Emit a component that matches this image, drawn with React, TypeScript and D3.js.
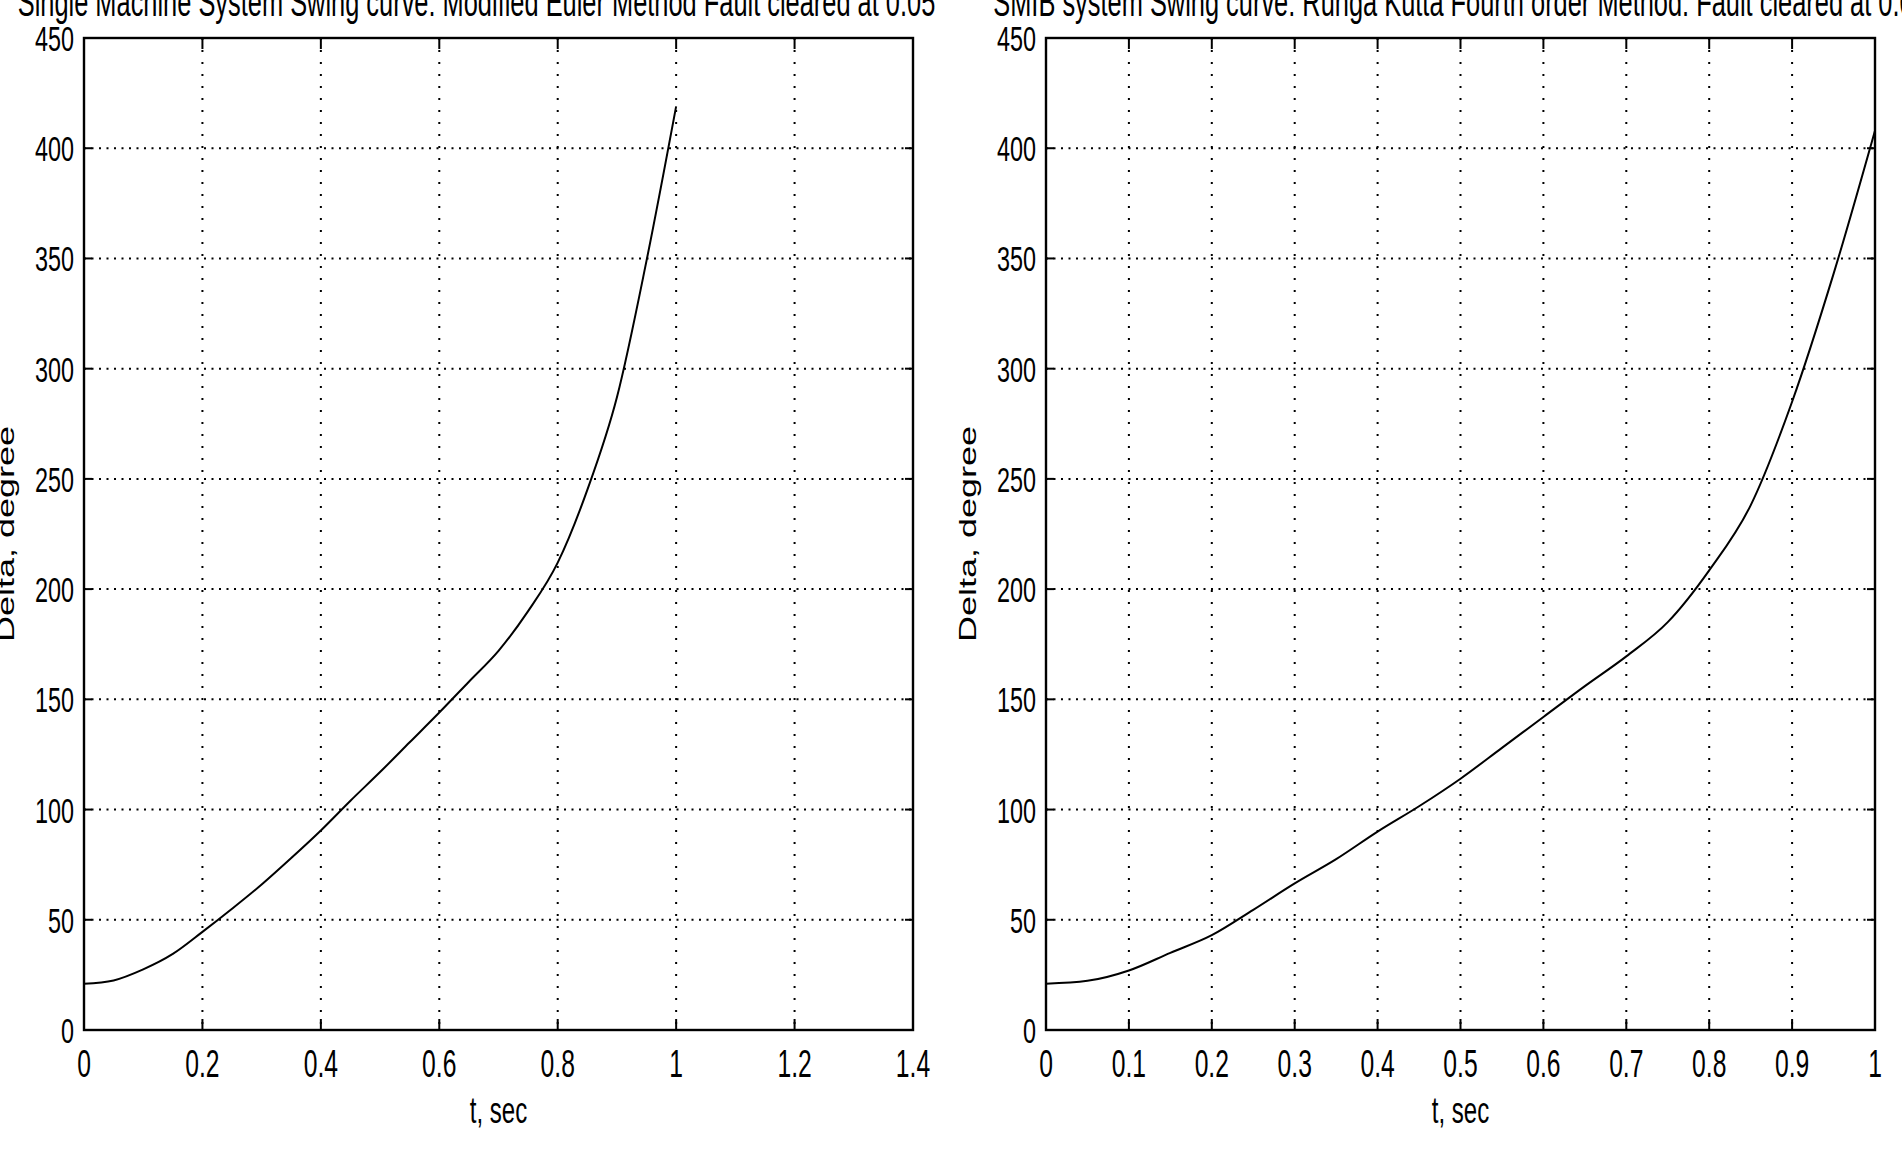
import React from "react";
import * as d3 from "d3";

// ---- data ----
const tEuler = [0, 0.05, 0.1, 0.15, 0.2, 0.25, 0.3, 0.35, 0.4, 0.45, 0.5, 0.55, 0.6, 0.65, 0.7, 0.75, 0.8, 0.85, 0.9, 0.95, 1.0];
const deltaEuler = [21, 22.5, 27.5, 34.5, 44.5, 55, 66, 78, 90.5, 104, 117, 130.5, 144, 158, 172, 190, 212, 245, 287, 349, 419];

const tRK = [0, 0.05, 0.1, 0.15, 0.2, 0.25, 0.3, 0.35, 0.4, 0.45, 0.5, 0.55, 0.6, 0.65, 0.7, 0.75, 0.8, 0.85, 0.9, 0.95, 1.0];
const deltaRK = [21, 22.3, 27, 35, 43, 54.5, 66.5, 77.5, 90, 101.5, 114, 128, 142, 156, 169.5, 185, 208.5, 238, 285, 343, 408];

const xTicksLeft = [0, 0.2, 0.4, 0.6, 0.8, 1, 1.2, 1.4];
const xTicksRight = [0, 0.1, 0.2, 0.3, 0.4, 0.5, 0.6, 0.7, 0.8, 0.9, 1];
const yTicks = [0, 50, 100, 150, 200, 250, 300, 350, 400, 450];

const titleLeft = "Single Machine System Swing curve: Modified Euler Method  Fault cleared at 0.05";
const titleRight = "SMIB system Swing curve: Runga Kutta Fourth order Method: Fault cleared at 0.05";
const xLabel = "t, sec";
const yLabel = "Delta, degree";

// ---- layout ----
const W = 1902;
const H = 1155;
const SX = 0.65; // horizontal squeeze of the text
const FONT = "'Liberation Sans', Arial, Helvetica, sans-serif";
const FS = 36;

function Txt({ x, y, anchor = "middle", rot = false, size = FS, sx = SX, children }: any) {
  return (
    <text
      transform={`translate(${x},${y}) scale(${sx},1)${rot ? " rotate(-90)" : ""}`}
      textAnchor={anchor}
      fontFamily={FONT}
      fontSize={size}
      fill="#000"
    >
      {children}
    </text>
  );
}

function Panel({ x0, x1, y0, y1, xMax, xTicks, t, v, title, titleShift }: any) {
  const x = d3.scaleLinear().domain([0, xMax]).range([x0, x1]);
  const y = d3.scaleLinear().domain([0, 450]).range([y1, y0]);
  const line = d3
    .line<number>()
    .x((_, i) => x(t[i]))
    .y((d) => y(d))
    .curve(d3.curveMonotoneX);
  const fmt = (d: number) => String(+d.toFixed(1));
  const cx = (x0 + x1) / 2;
  const cy = (y0 + y1) / 2;
  const tickX = 11;
  const tickY = 8;
  return (
    <g>
      {/* grid */}
      {xTicks.slice(1, -1).map((d: number) => (
        <line key={"gx" + d} x1={x(d)} x2={x(d)} y1={y0} y2={y1} stroke="#000" strokeWidth={2} strokeDasharray="2,10" />
      ))}
      {yTicks.slice(1, -1).map((d) => (
        <line key={"gy" + d} x1={x0} x2={x1} y1={y(d)} y2={y(d)} stroke="#000" strokeWidth={2} strokeDasharray="2,5.5" />
      ))}
      {/* curve */}
      <path d={line(v) || ""} fill="none" stroke="#000" strokeWidth={2} />
      {/* ticks */}
      {xTicks.map((d: number) => (
        <g key={"tx" + d}>
          <line x1={x(d)} x2={x(d)} y1={y1} y2={y1 - tickX} stroke="#000" strokeWidth={2} />
          <line x1={x(d)} x2={x(d)} y1={y0} y2={y0 + tickX} stroke="#000" strokeWidth={2} />
          <Txt x={x(d)} y={y1 + 47} size={38}>{fmt(d)}</Txt>
        </g>
      ))}
      {yTicks.map((d) => (
        <g key={"ty" + d}>
          <line x1={x0} x2={x0 + tickY} y1={y(d)} y2={y(d)} stroke="#000" strokeWidth={2} />
          <line x1={x1} x2={x1 - tickY} y1={y(d)} y2={y(d)} stroke="#000" strokeWidth={2} />
          <Txt x={x0 - 10} y={y(d) + 13} anchor="end">{String(d)}</Txt>
        </g>
      ))}
      {/* box */}
      <rect x={x0} y={y0} width={x1 - x0} height={y1 - y0} fill="none" stroke="#000" strokeWidth={2.4} />
      {/* labels */}
      <Txt x={cx} y={y1 + 93} size={37}>{xLabel}</Txt>
      <Txt x={x0 - 70} y={cy} rot>{yLabel}</Txt>
      <Txt x={cx + titleShift} y={16} size={40} sx={0.635}>{title}</Txt>
    </g>
  );
}

export default function App() {
  return (
    <svg
      width={W}
      height={H}
      viewBox={`0 0 ${W} ${H}`}
      style={{ position: "absolute", left: 0, top: 0, background: "#fff" }}
    >
      <rect x={0} y={0} width={W} height={H} fill="#fff" />
      <Panel x0={84} x1={913} y0={38} y1={1030} xMax={1.4} xTicks={xTicksLeft} t={tEuler} v={deltaEuler} title={titleLeft} titleShift={-22} />
      <Panel x0={1046} x1={1875} y0={38} y1={1030} xMax={1} xTicks={xTicksRight} t={tRK} v={deltaRK} title={titleRight} titleShift={0} />
    </svg>
  );
}
